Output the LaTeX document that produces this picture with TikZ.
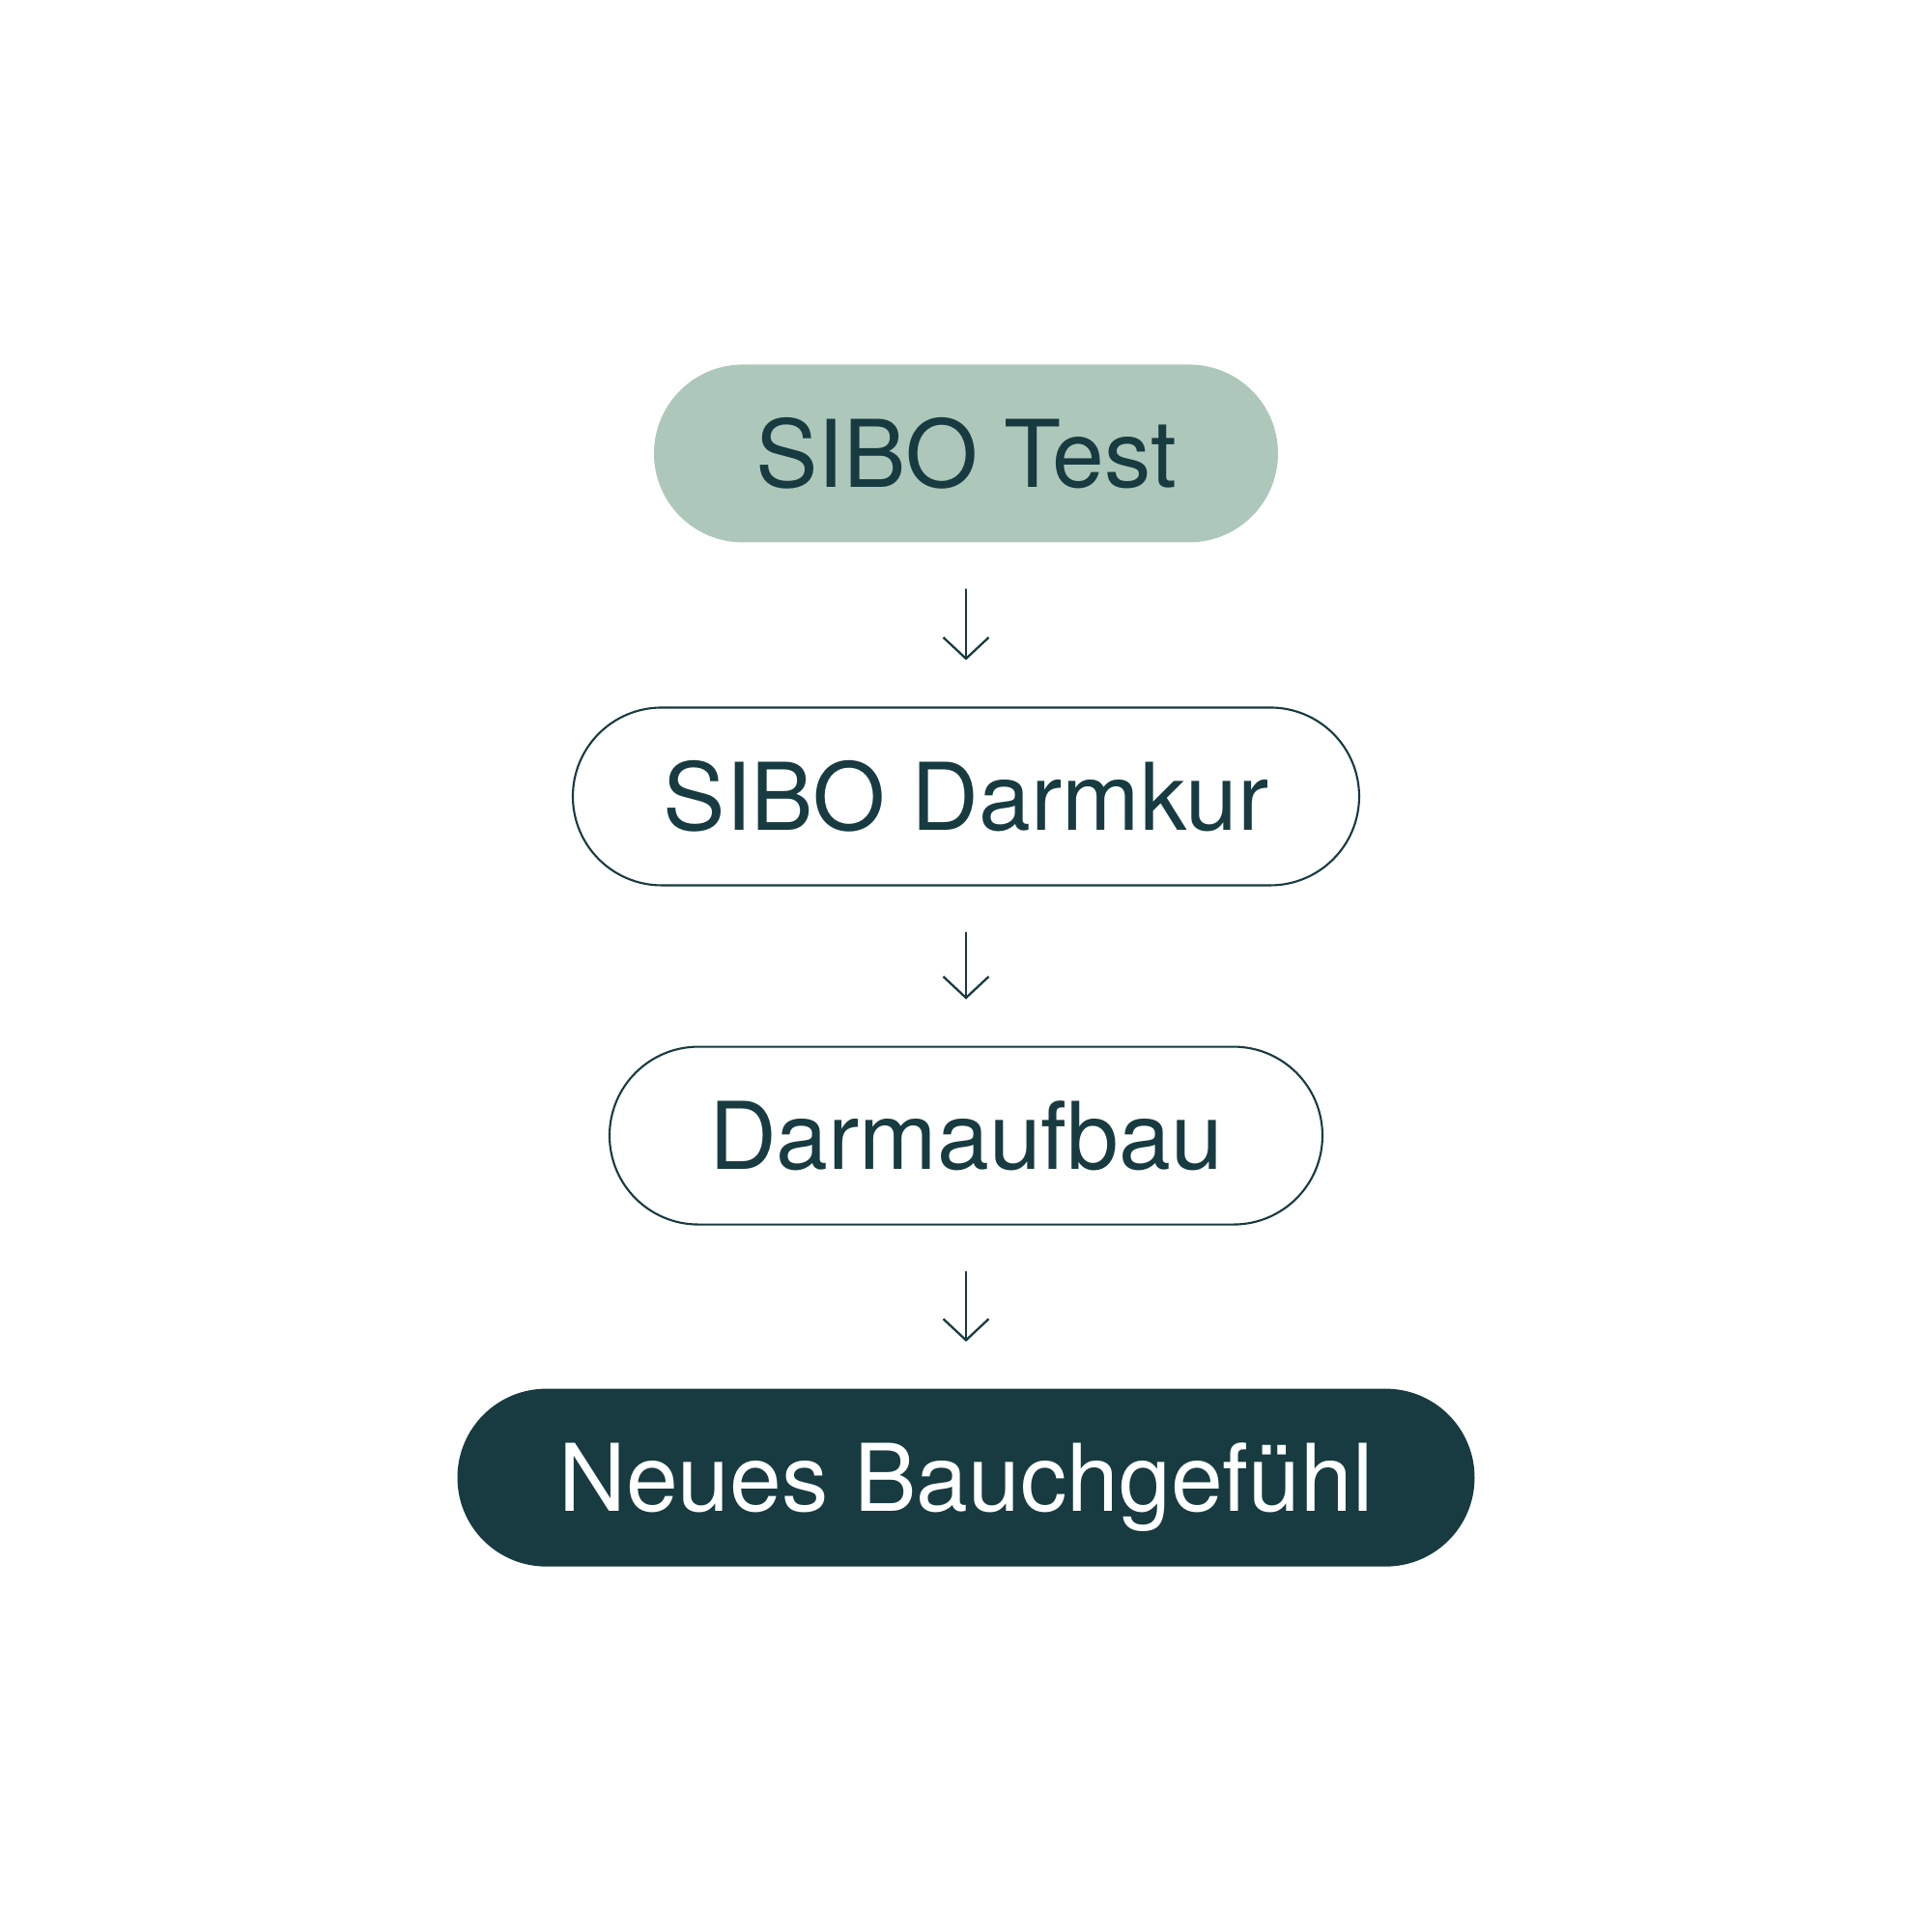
\documentclass[tikz,border=0pt]{standalone}
\usepackage{fontspec}
\setmainfont{TeX Gyre Heros}
\usetikzlibrary{arrows.meta,matrix}

\definecolor{deepteal}{HTML}{173B40}
\definecolor{sage}{HTML}{ADC8BA}

\tikzset{
  pill/.style={rectangle, rounded corners=0.92cm, minimum height=1.84cm,
    inner xsep=0.5cm, inner ysep=0pt, text height=19.75pt, text depth=0pt,
    font=\fontsize{27.5}{33}\selectfont, text=deepteal},
  outlined/.style={pill, draw=deepteal, line width=0.6pt},
  flowarrow/.style={draw=deepteal, line width=0.65pt, line cap=round,
    -{Straight Barb[length=2.2mm, width=4.7mm]},
    shorten <=0.48cm, shorten >=0.48cm},
}

\begin{document}
\begin{tikzpicture}
  \path[use as bounding box, fill=white] (0,0) rectangle (20,-20);
  \matrix (flow) at (10,-9.995) [row sep=1.70cm, inner sep=0pt] {
    \node[pill, fill=sage, minimum width=6.46cm] (test) {SIBO Test}; \\
    \node[outlined, minimum width=8.14cm] (kur) {SIBO Darmkur}; \\[-0.05cm]
    \node[outlined, minimum width=7.38cm] (aufbau) {Darmaufbau}; \\[-0.01cm]
    \node[pill, fill=deepteal, text=white, minimum width=10.53cm] (gefuehl) {Neues Bauchgefühl}; \\
  };
  \draw[flowarrow] (test) -- (kur);
  \draw[flowarrow] (kur) -- (aufbau);
  \draw[flowarrow] (aufbau) -- (gefuehl);
\end{tikzpicture}
\end{document}
